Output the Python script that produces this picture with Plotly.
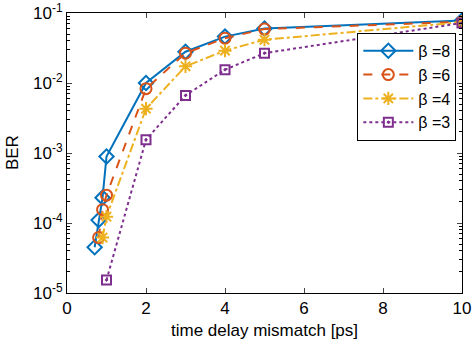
import plotly.graph_objects as go

# BER versus time delay mismatch for several beta values
x_b8 = [0.7, 0.8, 0.9, 1.0, 2, 3, 4, 5, 10]
ber_b8 = [4.5e-5, 1.1e-4, 2.3e-4, 8.9e-4, 1.0e-2, 2.8e-2, 4.6e-2, 6.0e-2, 7.8e-2]

x_b6 = [0.8, 0.9, 1.0, 2, 3, 4, 5, 10]
ber_b6 = [6.2e-5, 1.55e-4, 2.5e-4, 8.3e-3, 2.67e-2, 4.37e-2, 5.9e-2, 7.5e-2]

x_b4 = [0.9, 1.0, 2, 3, 4, 5, 10]
ber_b4 = [6.2e-5, 1.23e-4, 4.3e-3, 1.73e-2, 2.9e-2, 4.15e-2, 7.4e-2]

x_b3 = [1.0, 2, 3, 4, 5, 10]
ber_b3 = [1.53e-5, 1.55e-3, 6.65e-3, 1.55e-2, 2.67e-2, 7.2e-2]

y_ticks = [1e-5, 1e-4, 1e-3, 1e-2, 1e-1]
y_ticktext = ["10<sup>-5</sup>", "10<sup>-4</sup>", "10<sup>-3</sup>",
              "10<sup>-2</sup>", "10<sup>-1</sup>"]
x_ticks = [0, 2, 4, 6, 8, 10]

series = [
    ("β =8", x_b8, ber_b8, "#0072BD", "solid", "diamond-open", 11),
    ("β =6", x_b6, ber_b6, "#D95319", "dash", "circle-open", 11),
    ("β =4", x_b4, ber_b4, "#EDB120", "dashdot", "asterisk-open", 11),
    ("β =3", x_b3, ber_b3, "#7E2F8E", "dot", "square-open-dot", 9),
]

fig = go.Figure()
for name, xs, ys, color, dash, symbol, size in series:
    fig.add_trace(go.Scatter(
        x=xs, y=ys, name=name, mode="lines+markers",
        line=dict(color=color, width=2, dash=dash),
        marker=dict(symbol=symbol, size=size, color=color,
                    line=dict(color=color, width=2)),
    ))

minor_vals = [m * 10.0 ** e for e in range(-5, -1) for m in range(2, 10)]

fig.update_layout(
    width=474, height=345,
    margin=dict(l=67, r=12, t=13, b=52, autoexpand=False),
    paper_bgcolor="white", plot_bgcolor="white",
    font=dict(family="Liberation Sans, Arial, sans-serif", size=17, color="black"),
    showlegend=True,
    legend=dict(
        x=0.735, y=0.929, xanchor="left", yanchor="top",
        bordercolor="black", borderwidth=1, bgcolor="white",
        font=dict(size=16), itemwidth=50, tracegroupgap=0,
    ),
    xaxis=dict(
        range=[0, 10], tickvals=x_ticks, ticks="inside", ticklen=5,
        showline=True, linecolor="black", linewidth=1, mirror="ticks",
        showgrid=False, zeroline=False, automargin=False,
        title=dict(text="time delay mismatch [ps]", font=dict(size=17), standoff=6),
    ),
    yaxis=dict(
        type="log", range=[-5, -1], tickvals=y_ticks, ticktext=y_ticktext,
        ticks="inside", ticklen=5, automargin=False,
        minor=dict(tickvals=minor_vals, ticks="inside", ticklen=3, tickcolor="black"),
        showline=True, linecolor="black", linewidth=1, mirror="ticks",
        showgrid=False, zeroline=False,
    ),
    # y-axis title placed as a rotated annotation close to the left edge
    annotations=[dict(
        text="BER", xref="paper", yref="paper", x=-0.139, y=0.5,
        xanchor="center", yanchor="middle", textangle=-90,
        showarrow=False, font=dict(size=17),
    )],
)

fig.write_html("out.html")
